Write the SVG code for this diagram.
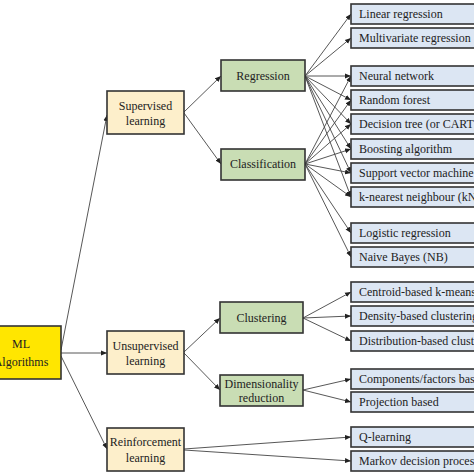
<svg xmlns="http://www.w3.org/2000/svg" width="474" height="474" viewBox="0 0 474 474">
<defs>
<marker id="ah" viewBox="0 0 6 6" refX="6" refY="3" markerWidth="6" markerHeight="6" markerUnits="userSpaceOnUse" orient="auto">
<path d="M0,0.5 L6,3 L0,5.5 Z" fill="#222"/>
</marker>
<style>
.box{stroke:#333;stroke-width:1.6}
.root{fill:#FFE600}
.l1{fill:#FDEFCB}
.l2{fill:#C9DDB4}
.leaf{fill:#DCE6F3}
text{font-family:"Liberation Serif","Times New Roman",serif;font-size:12px;fill:#222}
.c{text-anchor:middle}
#connectors line{stroke:#444;stroke-width:0.9;marker-end:url(#ah)}
</style>
</defs>
<rect width="474" height="474" fill="#fff"/>
<g id="connectors">
<line x1="61" y1="350" x2="107" y2="115"/>
<line x1="61" y1="353" x2="107" y2="353"/>
<line x1="61" y1="356" x2="107" y2="449"/>
<line x1="184" y1="112" x2="221" y2="76"/>
<line x1="184" y1="113" x2="221" y2="164"/>
<line x1="184" y1="352" x2="220" y2="318"/>
<line x1="184" y1="353" x2="220" y2="390"/>
<line x1="184" y1="449" x2="351" y2="437"/>
<line x1="184" y1="450" x2="351" y2="461"/>
<line x1="305" y1="76" x2="351" y2="14"/>
<line x1="305" y1="76" x2="351" y2="38"/>
<line x1="305" y1="76" x2="351" y2="76"/>
<line x1="305" y1="76" x2="351" y2="100"/>
<line x1="305" y1="76" x2="351" y2="124"/>
<line x1="305" y1="76" x2="351" y2="149"/>
<line x1="305" y1="76" x2="351" y2="173"/>
<line x1="305" y1="76" x2="351" y2="197"/>
<line x1="305" y1="164" x2="351" y2="76"/>
<line x1="305" y1="164" x2="351" y2="100"/>
<line x1="305" y1="164" x2="351" y2="124"/>
<line x1="305" y1="164" x2="351" y2="149"/>
<line x1="305" y1="164" x2="351" y2="173"/>
<line x1="305" y1="164" x2="351" y2="197"/>
<line x1="305" y1="164" x2="351" y2="233"/>
<line x1="305" y1="164" x2="351" y2="257"/>
<line x1="303" y1="318" x2="351" y2="292"/>
<line x1="303" y1="318" x2="351" y2="316"/>
<line x1="303" y1="318" x2="351" y2="341"/>
<line x1="303" y1="390" x2="351" y2="379"/>
<line x1="303" y1="390" x2="351" y2="402"/>
</g>
<g id="ml"><rect class="box root" x="-19" y="326" width="80" height="53"/><text class="c" x="21" y="348">ML</text><text class="c" x="21" y="366">Algorithms</text></g>
<g id="supervised"><rect class="box l1" x="107" y="91" width="77" height="43"/><text class="c" x="145.5" y="110">Supervised</text><text class="c" x="145.5" y="125">learning</text></g>
<g id="unsupervised"><rect class="box l1" x="107" y="331" width="77" height="43"/><text class="c" x="145.5" y="350">Unsupervised</text><text class="c" x="145.5" y="365">learning</text></g>
<g id="reinforcement"><rect class="box l1" x="107" y="428" width="77" height="43"/><text class="c" x="145.5" y="446">Reinforcement</text><text class="c" x="145.5" y="462">learning</text></g>
<g id="regression"><rect class="box l2" x="221" y="60" width="84" height="31"/><text class="c" x="263" y="80">Regression</text></g>
<g id="classification"><rect class="box l2" x="221" y="149" width="84" height="31"/><text class="c" x="263" y="168">Classification</text></g>
<g id="clustering"><rect class="box l2" x="220" y="302" width="83" height="31"/><text class="c" x="261.5" y="322">Clustering</text></g>
<g id="dimred"><rect class="box l2" x="220" y="375" width="83" height="31"/><text class="c" x="261.5" y="388">Dimensionality</text><text class="c" x="261.5" y="402">reduction</text></g>
<g id="linear"><rect class="box leaf" x="351" y="4" width="130" height="20"/><text x="359" y="18">Linear regression</text></g>
<g id="multivariate"><rect class="box leaf" x="351" y="28" width="130" height="20"/><text x="359" y="42">Multivariate regression</text></g>
<g id="neural"><rect class="box leaf" x="351" y="66" width="130" height="20"/><text x="359" y="80">Neural network</text></g>
<g id="randomforest"><rect class="box leaf" x="351" y="90" width="130" height="20"/><text x="359" y="104">Random forest</text></g>
<g id="decisiontree"><rect class="box leaf" x="351" y="114" width="130" height="20"/><text x="359" y="128">Decision tree (or CART)</text></g>
<g id="boosting"><rect class="box leaf" x="351" y="139" width="130" height="20"/><text x="359" y="153">Boosting algorithm</text></g>
<g id="svm"><rect class="box leaf" x="351" y="163" width="130" height="20"/><text x="359" y="177">Support vector machine</text></g>
<g id="knn"><rect class="box leaf" x="351" y="187" width="130" height="20"/><text x="359" y="201">k-nearest neighbour (kNN)</text></g>
<g id="logistic"><rect class="box leaf" x="351" y="223" width="130" height="20"/><text x="359" y="237">Logistic regression</text></g>
<g id="naive"><rect class="box leaf" x="351" y="247" width="130" height="20"/><text x="359" y="261">Naive Bayes (NB)</text></g>
<g id="centroid"><rect class="box leaf" x="351" y="282" width="130" height="20"/><text x="359" y="296">Centroid-based k-means</text></g>
<g id="density"><rect class="box leaf" x="351" y="306" width="130" height="20"/><text x="359" y="320">Density-based clustering</text></g>
<g id="distribution"><rect class="box leaf" x="351" y="331" width="130" height="20"/><text x="359" y="345">Distribution-based clustering</text></g>
<g id="components"><rect class="box leaf" x="351" y="369" width="130" height="20"/><text x="359" y="383">Components/factors based</text></g>
<g id="projection"><rect class="box leaf" x="351" y="392" width="130" height="20"/><text x="359" y="406">Projection based</text></g>
<g id="qlearning"><rect class="box leaf" x="351" y="427" width="130" height="20"/><text x="359" y="441">Q-learning</text></g>
<g id="markov"><rect class="box leaf" x="351" y="451" width="130" height="20"/><text x="359" y="465">Markov decision process</text></g>
</svg>
